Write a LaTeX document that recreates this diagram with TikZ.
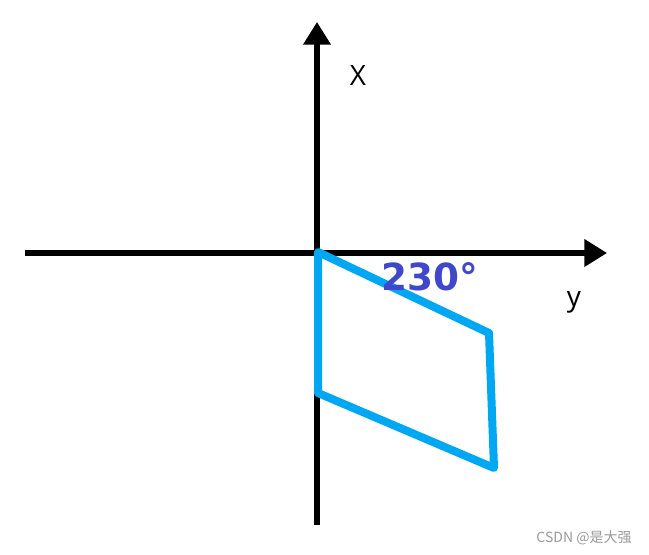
\documentclass[tikz,border=0pt]{standalone}
\usepackage{fontspec}
\setmainfont{Open Sans}
\newfontfamily\cjkfont{Noto Sans CJK SC}
\newfontfamily\handfont{DejaVu Sans}
\usetikzlibrary{arrows.meta}

\definecolor{frameblue}{HTML}{00A8F3}
\definecolor{inkblue}{HTML}{3F48CC}
\tikzset{
	axisline/.style = {line width=3.8pt, -{Triangle[length=17pt, width=20pt]}},
	frameline/.style = {draw=frameblue, line width=6pt, line join=round, line cap=round},
}

\begin{document}
\begin{tikzpicture}[x=0.75pt, y=-0.75pt]
	\useasboundingbox (0,0) rectangle (649,555);

	% axes
	\coordinate (ystart) at (25,253) ;
	\coordinate (yend) at (607,253) ;
	\coordinate (xstart) at (317,525) ;
	\coordinate (xend) at (317,22) ;
	\draw [axisline] (ystart) -- (yend);
	\draw [axisline] (xstart) -- (xend);

	\draw (358,76) node (xlabel) {\fontsize{21}{24}\selectfont X} ;
	\draw (574,302) node (ylabel) {\fontsize{21}{24}\selectfont y} ;

	% rotated frame
	\coordinate (p1) at (318,252) ;
	\coordinate (p2) at (489,333) ;
	\coordinate (p3) at (494,468) ;
	\coordinate (p4) at (318,393) ;
	\draw [frameline] (p1) -- (p2) -- (p3) -- (p4) -- cycle;

	\draw (430,277) node[text=inkblue, inner sep=0pt] (angle) {\handfont\bfseries\fontsize{28}{30}\selectfont 230°} ;

	\draw (584,538) node[text=black!40] (mark) {\cjkfont\fontsize{10.5}{12}\selectfont CSDN @是大强} ;
\end{tikzpicture}
\end{document}
